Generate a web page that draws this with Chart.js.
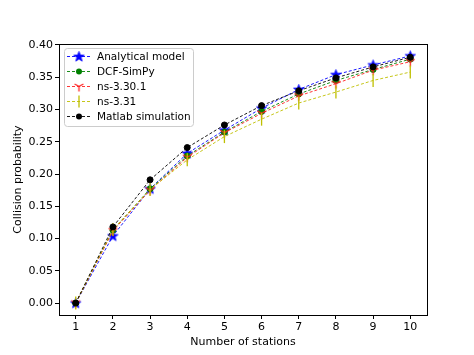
<!DOCTYPE html>
<html><head><meta charset="utf-8">
<script src="https://cdn.jsdelivr.net/npm/chart.js@4.4.0/dist/chart.umd.min.js"></script>
<style>html,body{margin:0;padding:0;background:#fff;}#wrap{width:474px;height:355px;}</style>
</head><body><div id="wrap"><canvas id="c" width="474" height="355"></canvas></div>
<script>
const stations = [1,2,3,4,5,6,7,8,9,10];
const analytical = [0, 0.104, 0.177, 0.232, 0.268, 0.302, 0.331, 0.354, 0.369, 0.383];
const dcfSimPy   = [0, 0.113, 0.177, 0.228, 0.265, 0.297, 0.324, 0.345, 0.362, 0.378];
const ns3301     = [0, 0.112, 0.175, 0.226, 0.264, 0.294, 0.321, 0.340, 0.361, 0.374];
const ns331      = [0, 0.114, 0.176, 0.222, 0.258, 0.285, 0.310, 0.327, 0.345, 0.358];
const matlab     = [0, 0.118, 0.191, 0.241, 0.276, 0.306, 0.329, 0.349, 0.366, 0.381];
const seriesLabels = ['Analytical model','DCF-SimPy','ns-3.30.1','ns-3.31','Matlab simulation'];
const xTicks = [1,2,3,4,5,6,7,8,9,10];
const yTicks = [0,0.05,0.10,0.15,0.20,0.25,0.30,0.35,0.40];
const xTitle = 'Number of stations';
const yTitle = 'Collision probability';

const FONT = 'DejaVu Sans';

function starCanvas(color){
  const c=document.createElement('canvas'); c.width=13; c.height=13;
  const g=c.getContext('2d'); const cx=6.5, cy=6.8, R=5.4, r=2.2;
  g.beginPath();
  for(let i=0;i<10;i++){const a=-Math.PI/2+i*Math.PI/5; const rr=i%2?r:R; g.lineTo(cx+rr*Math.cos(a), cy+rr*Math.sin(a));}
  g.closePath(); g.fillStyle=color; g.fill(); g.strokeStyle=color; g.lineWidth=0.8; g.stroke();
  return c;
}
function triDownCanvas(color){
  const c=document.createElement('canvas'); c.width=13; c.height=13;
  const g=c.getContext('2d'); const cx=6.5, cy=6.5, L=5;
  g.strokeStyle=color; g.lineWidth=1.3; g.beginPath();
  g.moveTo(cx,cy); g.lineTo(cx,cy+L);
  g.moveTo(cx,cy); g.lineTo(cx-L*0.866,cy-L*0.5);
  g.moveTo(cx,cy); g.lineTo(cx+L*0.866,cy-L*0.5);
  g.stroke(); return c;
}
const starImg = starCanvas('#0000ff');
const triImg = triDownCanvas('#ff2020');

const colors = ['#0000ff','#008000','#ff2020','#bfbf00','#000000'];
const seriesData = [analytical, dcfSimPy, ns3301, ns331, matlab];
const pointStyles = [starImg,'circle',triImg,'line','circle'];
const radii = [6,3,6,6.5,3];

const datasets = seriesData.map((arr,i)=>({
  label: seriesLabels[i],
  data: arr.map((v,j)=>({x:stations[j], y:v})),
  borderColor: colors[i],
  backgroundColor: colors[i],
  pointBackgroundColor: colors[i],
  pointBorderColor: colors[i],
  pointStyle: pointStyles[i],
  pointRotation: i===3?90:0,
  pointRadius: radii[i],
  pointBorderWidth: i===3?1.3:1,
  borderWidth: 0.9,
  borderDash: [3,2],
  tension: 0,
  fill: false,
  order: 5-i
}));

const framePlugin = {
  id:'frame',
  afterDraw(chart){
    const {ctx, chartArea:a} = chart;
    ctx.save();
    ctx.strokeStyle='#000'; ctx.lineWidth=1;
    ctx.strokeRect(Math.round(a.left)+0.5, Math.round(a.top)+0.5, Math.round(a.right-a.left), Math.round(a.bottom-a.top));
    // legend
    const bx=64.5, by=48.5, bw=129, bh=78, rad=3;
    ctx.beginPath();
    ctx.moveTo(bx+rad,by); ctx.lineTo(bx+bw-rad,by); ctx.quadraticCurveTo(bx+bw,by,bx+bw,by+rad);
    ctx.lineTo(bx+bw,by+bh-rad); ctx.quadraticCurveTo(bx+bw,by+bh,bx+bw-rad,by+bh);
    ctx.lineTo(bx+rad,by+bh); ctx.quadraticCurveTo(bx,by+bh,bx,by+bh-rad);
    ctx.lineTo(bx,by+rad); ctx.quadraticCurveTo(bx,by,bx+rad,by); ctx.closePath();
    ctx.fillStyle='rgba(255,255,255,0.85)'; ctx.fill();
    ctx.strokeStyle='#cccccc'; ctx.lineWidth=1; ctx.stroke();
    ctx.font='10.5px "'+FONT+'"'; ctx.textBaseline='middle'; ctx.textAlign='left';
    chart.data.datasets.forEach((ds,i)=>{
      const y = 56.5 + i*15;
      ctx.strokeStyle=ds.borderColor; ctx.lineWidth=0.9; ctx.setLineDash([3,2]);
      ctx.beginPath(); ctx.moveTo(67,y); ctx.lineTo(91,y); ctx.stroke(); ctx.setLineDash([]);
      const mx=79;
      const ps=ds.pointStyle;
      if(ps instanceof HTMLCanvasElement){ ctx.drawImage(ps, mx-ps.width/2, y-ps.height/2); }
      else if(ps==='circle'){ ctx.beginPath(); ctx.arc(mx,y,3,0,Math.PI*2); ctx.fillStyle=ds.borderColor; ctx.fill(); }
      else if(ps==='line'){ ctx.strokeStyle=ds.borderColor; ctx.lineWidth=1.3; ctx.beginPath(); ctx.moveTo(mx,y-6); ctx.lineTo(mx,y+6); ctx.stroke(); }
      ctx.fillStyle='#000'; ctx.fillText(ds.label, 97, y+0.5);
    });
    // axis titles
    ctx.fillStyle='#000'; ctx.font='11px "'+FONT+'"'; ctx.textAlign='center'; ctx.textBaseline='middle';
    ctx.fillText(xTitle, (a.left+a.right)/2, 342);
    ctx.translate(18, (a.top+a.bottom)/2); ctx.rotate(-Math.PI/2); ctx.fillText(yTitle,0,0);
    ctx.restore();
  }
};

new Chart(document.getElementById('c'), {
  type:'line',
  data:{datasets},
  options:{
    responsive:false, animation:false, devicePixelRatio:1,
    layout:{padding:{left:0,top:44,right:47,bottom:0}},
    plugins:{legend:{display:false}, tooltip:{enabled:false}},
    scales:{
      x:{type:'linear', min:0.55, max:10.45,
        afterBuildTicks(s){ s.ticks = xTicks.map(v=>({value:v})); },
        afterFit(s){ s.height = 40; },
        ticks:{color:'#000', font:{family:FONT,size:11}, padding:2, maxRotation:0, autoSkip:false, callback:v=>String(v)},
        grid:{display:true, drawOnChartArea:false, drawTicks:true, tickLength:4, color:'#000'},
        border:{display:true, color:'#000'}
      },
      y:{type:'linear', min:-0.0185, max:0.4015,
        afterBuildTicks(s){ s.ticks = yTicks.map(v=>({value:v})); },
        afterFit(s){ s.width = 59; },
        ticks:{color:'#000', font:{family:FONT,size:11}, padding:2, autoSkip:false, callback:v=>v.toFixed(2)},
        grid:{display:true, drawOnChartArea:false, drawTicks:true, tickLength:4, color:'#000'},
        border:{display:true, color:'#000'}
      }
    }
  },
  plugins:[framePlugin]
});
</script></body></html>
